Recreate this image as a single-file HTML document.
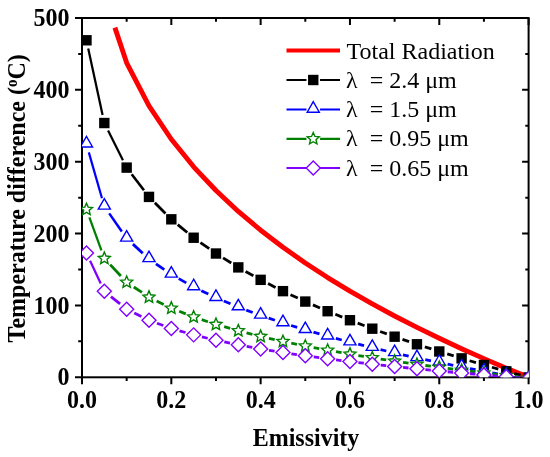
<!DOCTYPE html>
<html><head><meta charset="utf-8"><title>Temperature difference vs Emissivity</title>
<style>
html,body{margin:0;padding:0;background:#fff}
svg{display:block}
text{font-family:"Liberation Serif","Times New Roman",serif;fill:#000}
.tl{font-size:24px;font-weight:bold}
.at{font-size:24px;font-weight:bold}
  .lg{font-size:24px;white-space:pre}
</style></head><body>
<svg width="550" height="457" viewBox="0 0 550 457">
<rect width="550" height="457" fill="#fff"/>
<defs><clipPath id="pc"><rect x="82.0" y="18.0" width="446.6" height="359.3"/></clipPath></defs>
<rect x="82.0" y="18.0" width="446.6" height="359.3" fill="none" stroke="#000" stroke-width="2.0"/>
<path d="M82.00 377.3 v7.0 M82.00 18.0 v7.0 M126.66 377.3 v3.8 M126.66 18.0 v3.8 M171.32 377.3 v7.0 M171.32 18.0 v7.0 M215.98 377.3 v3.8 M215.98 18.0 v3.8 M260.64 377.3 v7.0 M260.64 18.0 v7.0 M305.30 377.3 v3.8 M305.30 18.0 v3.8 M349.96 377.3 v7.0 M349.96 18.0 v7.0 M394.62 377.3 v3.8 M394.62 18.0 v3.8 M439.28 377.3 v7.0 M439.28 18.0 v7.0 M483.94 377.3 v3.8 M483.94 18.0 v3.8 M528.60 377.3 v7.0 M528.60 18.0 v7.0 M82.0 377.30 h-7.0 M528.6 377.30 h-6.5 M82.0 341.37 h-3.8 M528.6 341.37 h-3.3 M82.0 305.44 h-7.0 M528.6 305.44 h-6.5 M82.0 269.51 h-3.8 M528.6 269.51 h-3.3 M82.0 233.58 h-7.0 M528.6 233.58 h-6.5 M82.0 197.65 h-3.8 M528.6 197.65 h-3.3 M82.0 161.72 h-7.0 M528.6 161.72 h-6.5 M82.0 125.79 h-3.8 M528.6 125.79 h-3.3 M82.0 89.86 h-7.0 M528.6 89.86 h-6.5 M82.0 53.93 h-3.8 M528.6 53.93 h-3.3 M82.0 18.00 h-7.0 M528.6 18.00 h-6.5" stroke="#000" stroke-width="2.0" fill="none"/>
<g clip-path="url(#pc)">
<polyline points="114.90,27.60 126.66,62.80 148.99,105.91 171.32,139.26 193.65,166.83 215.98,190.52 238.31,211.42 260.64,230.18 282.97,247.26 305.30,262.97 327.63,277.54 349.96,291.15 372.29,303.93 394.62,316.00 416.95,327.43 439.28,338.31 461.61,348.69 483.94,358.62 506.27,368.14 528.60,377.30" fill="none" stroke="#ff0000" stroke-width="4.9" stroke-linejoin="round"/>
<g fill="none" stroke="#000000"><path d="M88.22 48.39L102.58 114.91" stroke-width="2.25"/><path d="M108.05 130.45L122.94 160.19" stroke-width="2.25"/><path d="M131.69 174.21L143.96 190.29" stroke-width="2.62"/><path d="M154.85 202.78L165.46 213.44" stroke-width="2.80"/><path d="M177.72 224.60L187.25 232.46" stroke-width="2.80"/><path d="M200.43 242.53L209.20 248.73" stroke-width="2.80"/><path d="M223.03 257.90L231.26 263.02" stroke-width="2.80"/><path d="M245.56 271.44L253.39 275.80" stroke-width="2.80"/><path d="M268.04 283.60L275.57 287.41" stroke-width="2.80"/><path d="M290.49 294.66L297.78 298.06" stroke-width="2.80"/><path d="M312.92 304.86L320.01 307.92" stroke-width="2.80"/><path d="M335.33 314.32L342.26 317.12" stroke-width="2.80"/><path d="M357.72 323.17L364.53 325.75" stroke-width="2.80"/><path d="M380.10 331.49L386.81 333.89" stroke-width="2.80"/><path d="M402.48 339.35L409.09 341.60" stroke-width="2.80"/><path d="M424.85 346.82L431.38 348.93" stroke-width="2.80"/><path d="M447.21 353.93L453.68 355.93" stroke-width="2.80"/><path d="M469.57 360.73L475.98 362.62" stroke-width="2.80"/><path d="M491.93 367.24L498.28 369.04" stroke-width="2.80"/><path d="M514.28 373.49L520.59 375.21" stroke-width="2.80"/></g>
<rect x="81.27" y="35.08" width="10.4" height="10.4" fill="#000000"/>
<rect x="99.13" y="117.83" width="10.4" height="10.4" fill="#000000"/>
<rect x="121.46" y="162.41" width="10.4" height="10.4" fill="#000000"/>
<rect x="143.79" y="191.69" width="10.4" height="10.4" fill="#000000"/>
<rect x="166.12" y="214.12" width="10.4" height="10.4" fill="#000000"/>
<rect x="188.45" y="232.54" width="10.4" height="10.4" fill="#000000"/>
<rect x="210.78" y="248.32" width="10.4" height="10.4" fill="#000000"/>
<rect x="233.11" y="262.20" width="10.4" height="10.4" fill="#000000"/>
<rect x="255.44" y="274.64" width="10.4" height="10.4" fill="#000000"/>
<rect x="277.77" y="285.96" width="10.4" height="10.4" fill="#000000"/>
<rect x="300.10" y="296.36" width="10.4" height="10.4" fill="#000000"/>
<rect x="322.43" y="306.01" width="10.4" height="10.4" fill="#000000"/>
<rect x="344.76" y="315.02" width="10.4" height="10.4" fill="#000000"/>
<rect x="367.09" y="323.49" width="10.4" height="10.4" fill="#000000"/>
<rect x="389.42" y="331.49" width="10.4" height="10.4" fill="#000000"/>
<rect x="411.75" y="339.07" width="10.4" height="10.4" fill="#000000"/>
<rect x="434.08" y="346.28" width="10.4" height="10.4" fill="#000000"/>
<rect x="456.41" y="353.17" width="10.4" height="10.4" fill="#000000"/>
<rect x="478.74" y="359.77" width="10.4" height="10.4" fill="#000000"/>
<rect x="501.07" y="366.11" width="10.4" height="10.4" fill="#000000"/>
<rect x="523.40" y="372.20" width="10.4" height="10.4" fill="#000000"/>
<g fill="none" stroke="#0000ff"><path d="M88.81 152.40L101.98 198.21" stroke-width="2.25"/><path d="M109.19 213.35L121.80 231.42" stroke-width="2.52"/><path d="M132.91 244.15L142.74 253.19" stroke-width="2.80"/><path d="M155.97 263.79L164.34 269.60" stroke-width="2.80"/><path d="M178.72 278.63L186.25 282.88" stroke-width="2.80"/><path d="M201.31 290.73L208.32 294.09" stroke-width="2.80"/><path d="M223.82 301.04L230.47 303.83" stroke-width="2.80"/><path d="M246.27 310.08L252.68 312.47" stroke-width="2.80"/><path d="M268.69 318.16L274.92 320.26" stroke-width="2.80"/><path d="M291.09 325.48L297.18 327.36" stroke-width="2.80"/><path d="M313.47 332.20L319.46 333.91" stroke-width="2.80"/><path d="M335.85 338.42L341.74 339.99" stroke-width="2.80"/><path d="M358.21 344.22L364.04 345.66" stroke-width="2.80"/><path d="M380.57 349.65L386.34 351.00" stroke-width="2.80"/><path d="M402.92 354.77L408.65 356.04" stroke-width="2.80"/><path d="M425.27 359.62L430.96 360.82" stroke-width="2.80"/><path d="M447.62 364.23L453.27 365.36" stroke-width="2.80"/><path d="M469.96 368.62L475.59 369.70" stroke-width="2.80"/><path d="M492.30 372.82L497.91 373.85" stroke-width="2.80"/><path d="M514.64 376.85L520.23 377.83" stroke-width="2.80"/></g>
<polygon points="86.47,136.43 80.40,146.93 92.53,146.93" fill="#fff" stroke="#0000ff" stroke-width="1.4"/>
<polygon points="104.33,198.58 98.27,209.08 110.39,209.08" fill="#fff" stroke="#0000ff" stroke-width="1.4"/>
<polygon points="126.66,230.59 120.60,241.09 132.72,241.09" fill="#fff" stroke="#0000ff" stroke-width="1.4"/>
<polygon points="148.99,251.14 142.93,261.64 155.05,261.64" fill="#fff" stroke="#0000ff" stroke-width="1.4"/>
<polygon points="171.32,266.65 165.26,277.15 177.38,277.15" fill="#fff" stroke="#0000ff" stroke-width="1.4"/>
<polygon points="193.65,279.26 187.59,289.76 199.71,289.76" fill="#fff" stroke="#0000ff" stroke-width="1.4"/>
<polygon points="215.98,289.96 209.92,300.46 222.04,300.46" fill="#fff" stroke="#0000ff" stroke-width="1.4"/>
<polygon points="238.31,299.31 232.25,309.81 244.37,309.81" fill="#fff" stroke="#0000ff" stroke-width="1.4"/>
<polygon points="260.64,307.64 254.58,318.14 266.70,318.14" fill="#fff" stroke="#0000ff" stroke-width="1.4"/>
<polygon points="282.97,315.18 276.91,325.68 289.03,325.68" fill="#fff" stroke="#0000ff" stroke-width="1.4"/>
<polygon points="305.30,322.07 299.24,332.57 311.36,332.57" fill="#fff" stroke="#0000ff" stroke-width="1.4"/>
<polygon points="327.63,328.44 321.57,338.94 333.69,338.94" fill="#fff" stroke="#0000ff" stroke-width="1.4"/>
<polygon points="349.96,334.37 343.90,344.87 356.02,344.87" fill="#fff" stroke="#0000ff" stroke-width="1.4"/>
<polygon points="372.29,339.91 366.23,350.41 378.35,350.41" fill="#fff" stroke="#0000ff" stroke-width="1.4"/>
<polygon points="394.62,345.14 388.56,355.64 400.68,355.64" fill="#fff" stroke="#0000ff" stroke-width="1.4"/>
<polygon points="416.95,350.08 410.89,360.58 423.01,360.58" fill="#fff" stroke="#0000ff" stroke-width="1.4"/>
<polygon points="439.28,354.76 433.22,365.26 445.34,365.26" fill="#fff" stroke="#0000ff" stroke-width="1.4"/>
<polygon points="461.61,359.23 455.55,369.73 467.67,369.73" fill="#fff" stroke="#0000ff" stroke-width="1.4"/>
<polygon points="483.94,363.49 477.88,373.99 490.00,373.99" fill="#fff" stroke="#0000ff" stroke-width="1.4"/>
<polygon points="506.27,367.58 500.21,378.08 512.33,378.08" fill="#fff" stroke="#0000ff" stroke-width="1.4"/>
<polygon points="528.60,371.50 522.54,382.00 534.66,382.00" fill="#fff" stroke="#0000ff" stroke-width="1.4"/>
<g fill="none" stroke="#008000"><path d="M89.38 217.44L101.41 250.40" stroke-width="2.25"/><path d="M110.14 264.59L120.85 276.06" stroke-width="2.80"/><path d="M133.73 286.98L141.92 292.44" stroke-width="2.80"/><path d="M156.61 300.92L163.70 304.41" stroke-width="2.80"/><path d="M179.23 311.29L185.74 313.87" stroke-width="2.80"/><path d="M201.72 319.66L207.91 321.71" stroke-width="2.80"/><path d="M224.15 326.72L230.14 328.43" stroke-width="2.80"/><path d="M246.55 332.85L252.40 334.32" stroke-width="2.80"/><path d="M268.93 338.28L274.68 339.58" stroke-width="2.80"/><path d="M291.30 343.17L296.97 344.34" stroke-width="2.80"/><path d="M313.65 347.63L319.28 348.69" stroke-width="2.80"/><path d="M336.00 351.72L341.59 352.69" stroke-width="2.80"/><path d="M358.35 355.51L363.90 356.41" stroke-width="2.80"/><path d="M380.69 359.05L386.22 359.89" stroke-width="2.80"/><path d="M403.03 362.37L408.54 363.15" stroke-width="2.80"/><path d="M425.37 365.49L430.86 366.23" stroke-width="2.80"/><path d="M447.71 368.44L453.18 369.14" stroke-width="2.80"/><path d="M470.05 371.25L475.50 371.91" stroke-width="2.80"/><path d="M492.38 373.91L497.83 374.55" stroke-width="2.80"/><path d="M514.72 376.46L520.15 377.06" stroke-width="2.80"/></g>
<polygon points="86.47,203.16 88.17,207.11 92.46,207.51 89.22,210.35 90.17,214.55 86.47,212.35 82.76,214.55 83.71,210.35 80.47,207.51 84.76,207.11" fill="#fff" stroke="#008000" stroke-width="1.4"/>
<polygon points="104.33,252.08 106.03,256.04 110.32,256.44 107.09,259.28 108.03,263.48 104.33,261.28 100.63,263.48 101.57,259.28 98.34,256.44 102.63,256.04" fill="#fff" stroke="#008000" stroke-width="1.4"/>
<polygon points="126.66,275.97 128.36,279.92 132.65,280.32 129.42,283.16 130.36,287.36 126.66,285.16 122.96,287.36 123.90,283.16 120.67,280.32 124.96,279.92" fill="#fff" stroke="#008000" stroke-width="1.4"/>
<polygon points="148.99,290.86 150.69,294.81 154.98,295.21 151.75,298.05 152.69,302.25 148.99,300.06 145.29,302.25 146.23,298.05 143.00,295.21 147.29,294.81" fill="#fff" stroke="#008000" stroke-width="1.4"/>
<polygon points="171.32,301.87 173.02,305.83 177.31,306.23 174.08,309.07 175.02,313.27 171.32,311.07 167.62,313.27 168.56,309.07 165.33,306.23 169.62,305.83" fill="#fff" stroke="#008000" stroke-width="1.4"/>
<polygon points="193.65,310.69 195.35,314.65 199.64,315.04 196.41,317.89 197.35,322.09 193.65,319.89 189.95,322.09 190.89,317.89 187.66,315.04 191.95,314.65" fill="#fff" stroke="#008000" stroke-width="1.4"/>
<polygon points="215.98,318.08 217.68,322.04 221.97,322.43 218.74,325.28 219.68,329.48 215.98,327.28 212.28,329.48 213.22,325.28 209.99,322.43 214.28,322.04" fill="#fff" stroke="#008000" stroke-width="1.4"/>
<polygon points="238.31,324.47 240.01,328.42 244.30,328.82 241.07,331.66 242.01,335.86 238.31,333.67 234.61,335.86 235.55,331.66 232.32,328.82 236.61,328.42" fill="#fff" stroke="#008000" stroke-width="1.4"/>
<polygon points="260.64,330.10 262.34,334.06 266.63,334.46 263.40,337.30 264.34,341.50 260.64,339.30 256.94,341.50 257.88,337.30 254.65,334.46 258.94,334.06" fill="#fff" stroke="#008000" stroke-width="1.4"/>
<polygon points="282.97,335.16 284.67,339.12 288.96,339.51 285.73,342.36 286.67,346.56 282.97,344.36 279.27,346.56 280.21,342.36 276.98,339.51 281.27,339.12" fill="#fff" stroke="#008000" stroke-width="1.4"/>
<polygon points="305.30,339.75 307.00,343.71 311.29,344.10 308.06,346.95 309.00,351.15 305.30,348.95 301.60,351.15 302.54,346.95 299.31,344.10 303.60,343.71" fill="#fff" stroke="#008000" stroke-width="1.4"/>
<polygon points="327.63,343.96 329.33,347.92 333.62,348.31 330.39,351.16 331.33,355.36 327.63,353.16 323.93,355.36 324.87,351.16 321.64,348.31 325.93,347.92" fill="#fff" stroke="#008000" stroke-width="1.4"/>
<polygon points="349.96,347.85 351.66,351.81 355.95,352.21 352.72,355.05 353.66,359.25 349.96,357.05 346.26,359.25 347.20,355.05 343.97,352.21 348.26,351.81" fill="#fff" stroke="#008000" stroke-width="1.4"/>
<polygon points="372.29,351.48 373.99,355.43 378.28,355.83 375.05,358.67 375.99,362.87 372.29,360.67 368.59,362.87 369.53,358.67 366.30,355.83 370.59,355.43" fill="#fff" stroke="#008000" stroke-width="1.4"/>
<polygon points="394.62,354.87 396.32,358.82 400.61,359.22 397.38,362.06 398.32,366.26 394.62,364.06 390.92,366.26 391.86,362.06 388.63,359.22 392.92,358.82" fill="#fff" stroke="#008000" stroke-width="1.4"/>
<polygon points="416.95,358.05 418.65,362.01 422.94,362.41 419.71,365.25 420.65,369.45 416.95,367.25 413.25,369.45 414.19,365.25 410.96,362.41 415.25,362.01" fill="#fff" stroke="#008000" stroke-width="1.4"/>
<polygon points="439.28,361.07 440.98,365.02 445.27,365.42 442.04,368.26 442.98,372.46 439.28,370.26 435.58,372.46 436.52,368.26 433.29,365.42 437.58,365.02" fill="#fff" stroke="#008000" stroke-width="1.4"/>
<polygon points="461.61,363.92 463.31,367.88 467.60,368.27 464.37,371.12 465.31,375.32 461.61,373.12 457.91,375.32 458.85,371.12 455.62,368.27 459.91,367.88" fill="#fff" stroke="#008000" stroke-width="1.4"/>
<polygon points="483.94,366.64 485.64,370.59 489.93,370.99 486.70,373.83 487.64,378.03 483.94,375.83 480.24,378.03 481.18,373.83 477.95,370.99 482.24,370.59" fill="#fff" stroke="#008000" stroke-width="1.4"/>
<polygon points="506.27,369.22 507.97,373.18 512.26,373.58 509.03,376.42 509.97,380.62 506.27,378.42 502.57,380.62 503.51,376.42 500.28,373.58 504.57,373.18" fill="#fff" stroke="#008000" stroke-width="1.4"/>
<polygon points="528.60,371.70 530.30,375.66 534.59,376.05 531.36,378.90 532.30,383.10 528.60,380.90 524.90,383.10 525.84,378.90 522.61,376.05 526.90,375.66" fill="#fff" stroke="#008000" stroke-width="1.4"/>
<g fill="none" stroke="#8000ff"><path d="M90.07 260.76L100.73 283.53" stroke-width="2.25"/><path d="M110.94 296.57L120.05 303.92" stroke-width="2.80"/><path d="M134.28 313.04L141.37 316.55" stroke-width="2.80"/><path d="M156.98 323.23L163.33 325.53" stroke-width="2.80"/><path d="M179.49 330.79L185.48 332.52" stroke-width="2.80"/><path d="M201.91 336.86L207.72 338.25" stroke-width="2.80"/><path d="M224.30 341.96L229.99 343.14" stroke-width="2.80"/><path d="M246.67 346.38L252.28 347.40" stroke-width="2.80"/><path d="M269.03 350.28L274.58 351.18" stroke-width="2.80"/><path d="M291.38 353.78L296.89 354.59" stroke-width="2.80"/><path d="M313.72 356.97L319.21 357.70" stroke-width="2.80"/><path d="M336.07 359.88L341.52 360.56" stroke-width="2.80"/><path d="M358.40 362.58L363.85 363.21" stroke-width="2.80"/><path d="M380.74 365.10L386.17 365.68" stroke-width="2.80"/><path d="M403.08 367.45L408.49 368.00" stroke-width="2.80"/><path d="M425.41 369.66L430.82 370.18" stroke-width="2.80"/><path d="M447.75 371.75L453.14 372.24" stroke-width="2.80"/><path d="M470.08 373.74L475.47 374.20" stroke-width="2.80"/><path d="M492.41 375.62L497.80 376.06" stroke-width="2.80"/><path d="M514.74 377.42L520.13 377.84" stroke-width="2.80"/></g>
<polygon points="86.47,246.06 79.47,253.06 86.47,260.06 93.47,253.06" fill="#fff" stroke="#8000ff" stroke-width="1.4"/>
<polygon points="104.33,284.22 97.33,291.22 104.33,298.22 111.33,291.22" fill="#fff" stroke="#8000ff" stroke-width="1.4"/>
<polygon points="126.66,302.26 119.66,309.26 126.66,316.26 133.66,309.26" fill="#fff" stroke="#8000ff" stroke-width="1.4"/>
<polygon points="148.99,313.33 141.99,320.33 148.99,327.33 155.99,320.33" fill="#fff" stroke="#8000ff" stroke-width="1.4"/>
<polygon points="171.32,321.43 164.32,328.43 171.32,335.43 178.32,328.43" fill="#fff" stroke="#8000ff" stroke-width="1.4"/>
<polygon points="193.65,327.87 186.65,334.87 193.65,341.87 200.65,334.87" fill="#fff" stroke="#8000ff" stroke-width="1.4"/>
<polygon points="215.98,333.24 208.98,340.24 215.98,347.24 222.98,340.24" fill="#fff" stroke="#8000ff" stroke-width="1.4"/>
<polygon points="238.31,337.86 231.31,344.86 238.31,351.86 245.31,344.86" fill="#fff" stroke="#8000ff" stroke-width="1.4"/>
<polygon points="260.64,341.92 253.64,348.92 260.64,355.92 267.64,348.92" fill="#fff" stroke="#8000ff" stroke-width="1.4"/>
<polygon points="282.97,345.54 275.97,352.54 282.97,359.54 289.97,352.54" fill="#fff" stroke="#8000ff" stroke-width="1.4"/>
<polygon points="305.30,348.83 298.30,355.83 305.30,362.83 312.30,355.83" fill="#fff" stroke="#8000ff" stroke-width="1.4"/>
<polygon points="327.63,351.84 320.63,358.84 327.63,365.84 334.63,358.84" fill="#fff" stroke="#8000ff" stroke-width="1.4"/>
<polygon points="349.96,354.61 342.96,361.61 349.96,368.61 356.96,361.61" fill="#fff" stroke="#8000ff" stroke-width="1.4"/>
<polygon points="372.29,357.19 365.29,364.19 372.29,371.19 379.29,364.19" fill="#fff" stroke="#8000ff" stroke-width="1.4"/>
<polygon points="394.62,359.59 387.62,366.59 394.62,373.59 401.62,366.59" fill="#fff" stroke="#8000ff" stroke-width="1.4"/>
<polygon points="416.95,361.86 409.95,368.86 416.95,375.86 423.95,368.86" fill="#fff" stroke="#8000ff" stroke-width="1.4"/>
<polygon points="439.28,363.99 432.28,370.99 439.28,377.99 446.28,370.99" fill="#fff" stroke="#8000ff" stroke-width="1.4"/>
<polygon points="461.61,366.01 454.61,373.01 461.61,380.01 468.61,373.01" fill="#fff" stroke="#8000ff" stroke-width="1.4"/>
<polygon points="483.94,367.93 476.94,374.93 483.94,381.93 490.94,374.93" fill="#fff" stroke="#8000ff" stroke-width="1.4"/>
<polygon points="506.27,369.75 499.27,376.75 506.27,383.75 513.27,376.75" fill="#fff" stroke="#8000ff" stroke-width="1.4"/>
<polygon points="528.60,371.50 521.60,378.50 528.60,385.50 535.60,378.50" fill="#fff" stroke="#8000ff" stroke-width="1.4"/>
</g>
<text transform="translate(69.5,385.40) scale(1,1.06)" text-anchor="end" class="tl">0</text>
<text transform="translate(69.5,313.54) scale(1,1.06)" text-anchor="end" class="tl">100</text>
<text transform="translate(69.5,241.68) scale(1,1.06)" text-anchor="end" class="tl">200</text>
<text transform="translate(69.5,169.82) scale(1,1.06)" text-anchor="end" class="tl">300</text>
<text transform="translate(69.5,97.96) scale(1,1.06)" text-anchor="end" class="tl">400</text>
<text transform="translate(69.5,26.10) scale(1,1.06)" text-anchor="end" class="tl">500</text>
<text transform="translate(82.00,407.6) scale(1,1.06)" text-anchor="middle" class="tl">0.0</text>
<text transform="translate(171.32,407.6) scale(1,1.06)" text-anchor="middle" class="tl">0.2</text>
<text transform="translate(260.64,407.6) scale(1,1.06)" text-anchor="middle" class="tl">0.4</text>
<text transform="translate(349.96,407.6) scale(1,1.06)" text-anchor="middle" class="tl">0.6</text>
<text transform="translate(439.28,407.6) scale(1,1.06)" text-anchor="middle" class="tl">0.8</text>
<text transform="translate(528.60,407.6) scale(1,1.06)" text-anchor="middle" class="tl">1.0</text>
<text transform="translate(306,446.4) scale(1,1.06)" text-anchor="middle" class="at">Emissivity</text>
<text transform="translate(24.6,198.3) rotate(-90) scale(1,1.06)" text-anchor="middle" class="at">Temperature difference (<tspan dy="-7" font-size="15">o</tspan><tspan dy="7">C)</tspan></text>
<path d="M286.5 50.5 H340" stroke="#ff0000" stroke-width="4"/>
<text x="346.5" y="58.7" class="lg">Total Radiation</text>
<path d="M286.5 80.0 H306.45 M320.05 80.0 H340" stroke="#000000" stroke-width="2.2"/>
<rect x="308.05" y="74.80" width="10.4" height="10.4" fill="#000000"/>
<text x="346" y="87.6" class="lg">λ  = 2.4 μm</text>
<path d="M286.5 109.5 H306.45 M320.05 109.5 H340" stroke="#0000ff" stroke-width="2.2"/>
<polygon points="313.25,101.70 307.19,112.20 319.31,112.20" fill="#fff" stroke="#0000ff" stroke-width="1.4"/>
<text x="346" y="117.1" class="lg">λ  = 1.5 μm</text>
<path d="M286.5 138.8 H306.45 M320.05 138.8 H340" stroke="#008000" stroke-width="2.2"/>
<polygon points="313.25,132.50 314.95,136.46 319.24,136.85 316.01,139.70 316.95,143.90 313.25,141.70 309.55,143.90 310.49,139.70 307.26,136.85 311.55,136.46" fill="#fff" stroke="#008000" stroke-width="1.4"/>
<text x="346" y="146.4" class="lg">λ  = 0.95 μm</text>
<path d="M286.5 168 H306.45 M320.05 168 H340" stroke="#8000ff" stroke-width="2.2"/>
<polygon points="313.25,161.00 306.25,168.00 313.25,175.00 320.25,168.00" fill="#fff" stroke="#8000ff" stroke-width="1.4"/>
<text x="346" y="175.6" class="lg">λ  = 0.65 μm</text>
</svg>
</body></html>
